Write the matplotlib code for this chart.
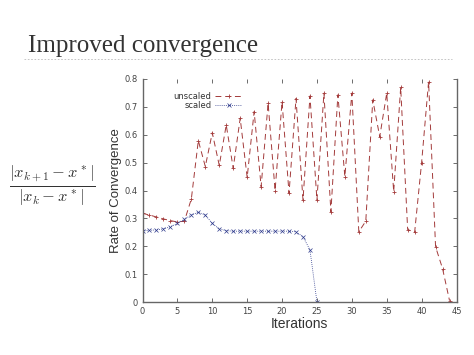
import matplotlib.pyplot as plt

plt.rcParams['mathtext.fontset'] = 'cm'

# unscaled: iterations 0..44
unscaled_iter = list(range(0, 45))
unscaled = [0.318, 0.312, 0.305, 0.298, 0.292, 0.287, 0.290, 0.370, 0.579, 0.486,
            0.607, 0.490, 0.635, 0.480, 0.659, 0.447, 0.683, 0.414, 0.713, 0.400,
            0.718, 0.390, 0.730, 0.366, 0.739, 0.366, 0.749, 0.324, 0.743, 0.450,
            0.749, 0.252, 0.290, 0.725, 0.593, 0.749, 0.396, 0.770, 0.260, 0.250,
            0.500, 0.790, 0.198, 0.120, 0.005]

# scaled: iterations 0..25
scaled_iter = list(range(0, 26))
scaled = [0.255, 0.257, 0.259, 0.262, 0.270, 0.282, 0.297, 0.312, 0.322, 0.312,
          0.282, 0.262, 0.256, 0.254, 0.254, 0.254, 0.254, 0.254, 0.254, 0.254,
          0.254, 0.254, 0.252, 0.234, 0.187, 0.0]

xticks = [0, 5, 10, 15, 20, 25, 30, 35, 40, 45]
yticks = [0, 0.1, 0.2, 0.3, 0.4, 0.5, 0.6, 0.7, 0.8]
ytick_labels = ['0', '0.1', '0.2', '0.3', '0.4', '0.5', '0.6', '0.7', '0.8']

red = '#a33a3a'
blue = '#2e3a8c'

fig = plt.figure(figsize=(4.74, 3.55), dpi=100)
fig.patch.set_facecolor('white')

# slide title and separator
fig.text(28/474, 1 - 46/355, 'Improved convergence', family='Liberation Serif',
         fontsize=18, color='#333333', va='center', ha='left')
fig.add_artist(plt.Line2D([24/474, 452/474], [1 - 59/355, 1 - 59/355],
                          transform=fig.transFigure, color='#bbbbbb',
                          lw=0.6, ls=(0, (2, 2))))

# formula at left
fig.text(52/474, 1 - 186/355, r'$\frac{|x_{k+1}-x^*|}{|x_k-x^*|}$',
         fontsize=17, color='#333333', ha='center', va='center')

ax = fig.add_axes([142.5/474, 1 - 302/355, 314/474, 223/355])

ax.plot(unscaled_iter, unscaled, color=red, lw=0.7, ls=(0, (6, 4)),
        marker='+', ms=3, mew=0.6, label='unscaled')
ax.plot(scaled_iter, scaled, color=blue, lw=0.6, ls=(0, (1, 1.5)),
        marker='x', ms=2.2, mew=0.5, label='scaled')

ax.set_xlim(0, 45)
ax.set_ylim(0, 0.8)
ax.set_xticks(xticks)
ax.set_yticks(yticks)
ax.set_yticklabels(ytick_labels)
ax.tick_params(direction='in', length=3, width=0.6, labelsize=6,
               top=True, right=True, colors='#555555', labelcolor='#444444')
for s in ['left', 'bottom', 'right']:
    ax.spines[s].set_color('#666666')
    ax.spines[s].set_linewidth(1.0)
ax.spines['top'].set_visible(False)

ax.set_xlabel('Iterations', family='Liberation Sans', fontsize=10,
              color='#333333', labelpad=1)
ax.set_ylabel('Rate of Convergence', family='Liberation Sans', fontsize=9.5,
              color='#333333')
ax.yaxis.set_label_coords(-0.065, 0.5)

leg = ax.legend(loc='upper left', bbox_to_anchor=(0.08, 0.97), frameon=False,
                markerfirst=False, fontsize=6, handlelength=3.2,
                labelspacing=0.05, handletextpad=0.5, borderpad=0.2)
for t in leg.get_texts():
    t.set_color('#333333')

fig.savefig('out.png', dpi=100)
